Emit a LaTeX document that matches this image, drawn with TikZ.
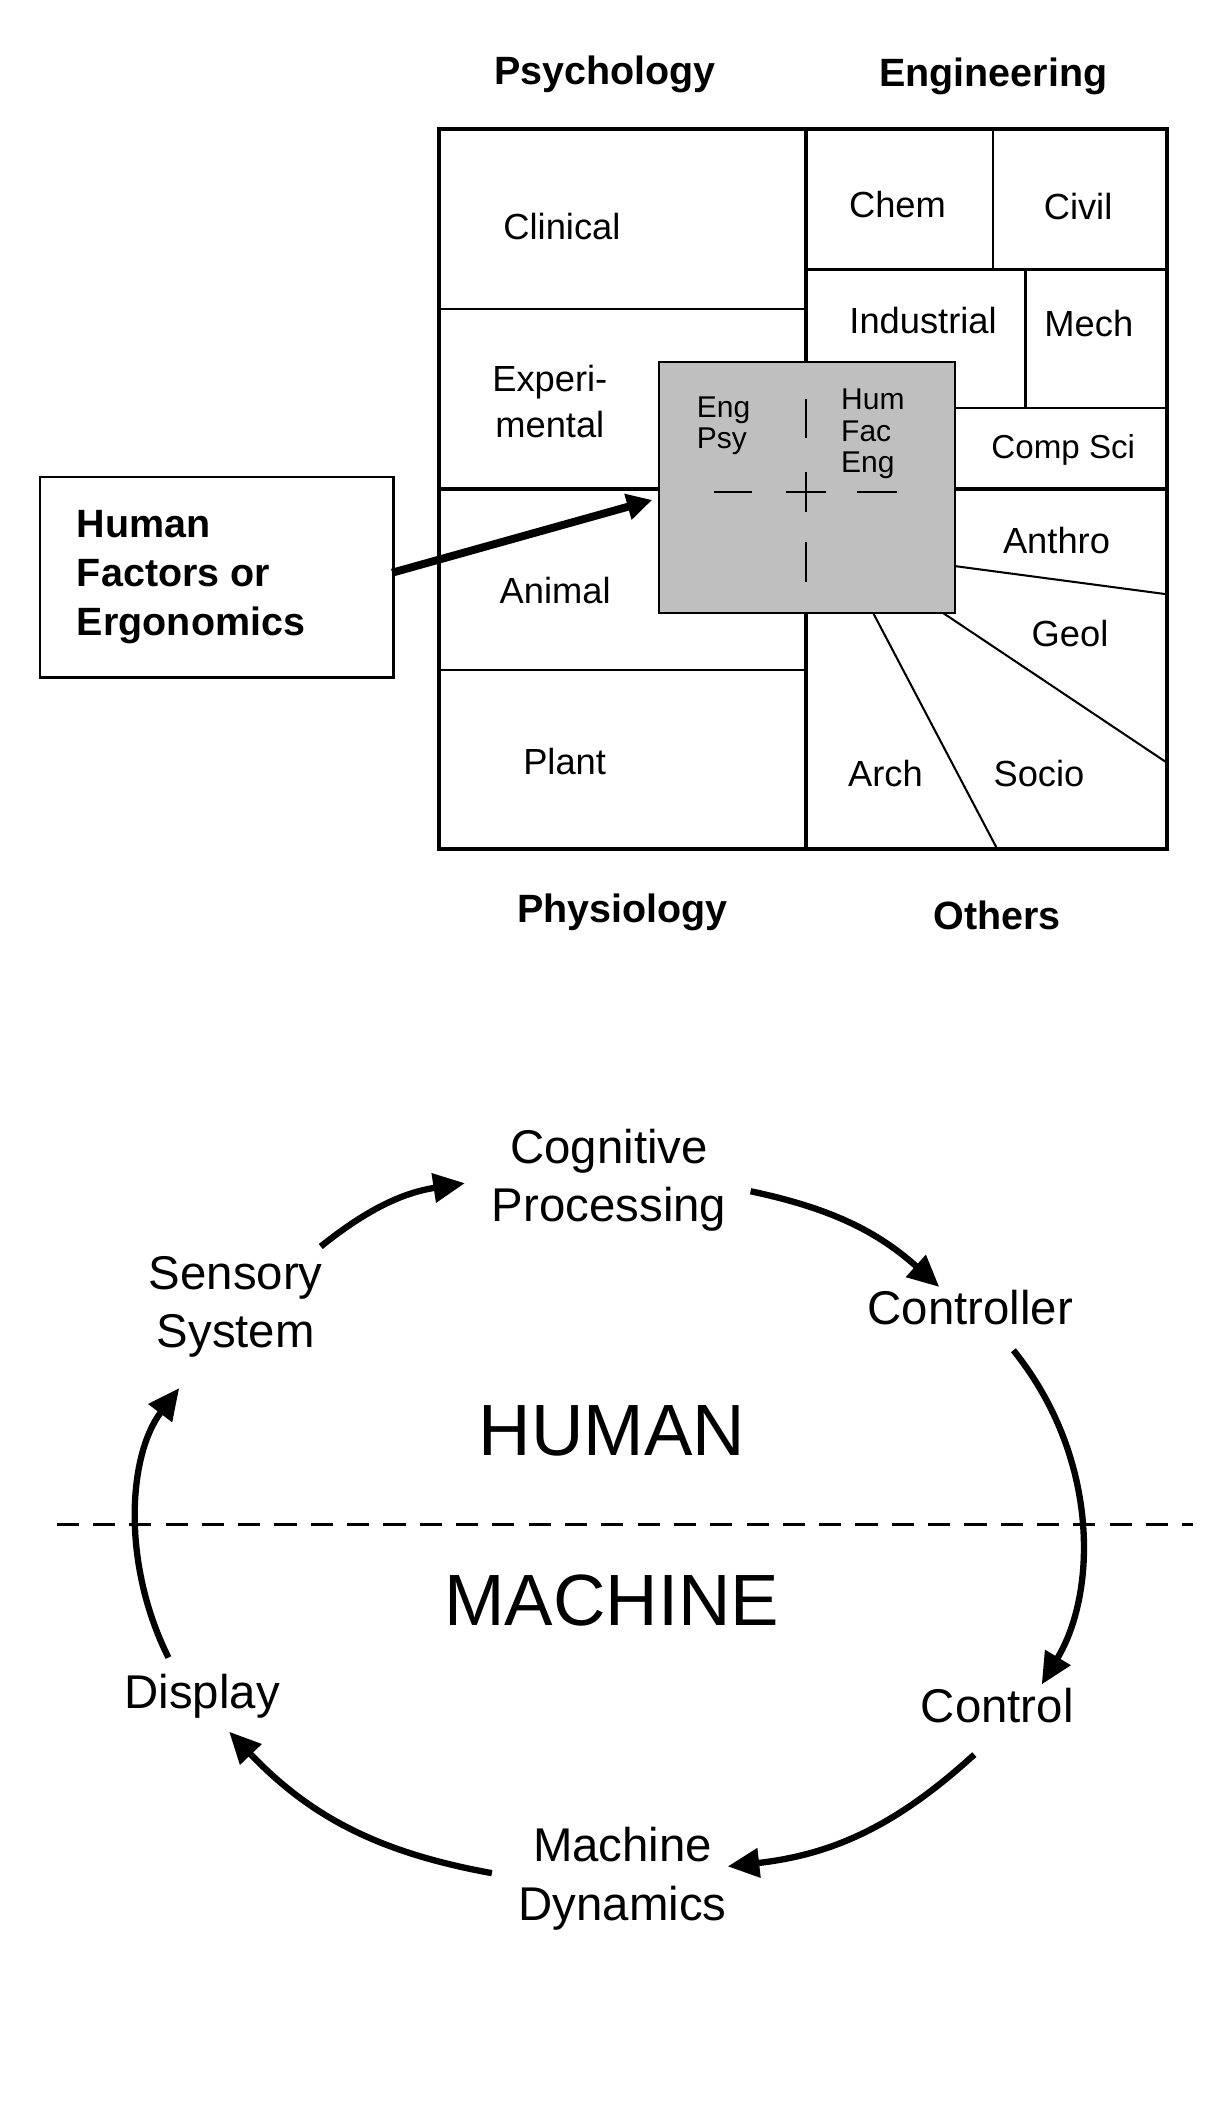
\documentclass[tikz,border=0pt]{standalone}
\usepackage{fontspec}
\setmainfont{Liberation Sans}
\usetikzlibrary{arrows.meta}
\begin{document}
\begin{tikzpicture}[x=0.03cm,y=-0.03cm,
 lab/.style={font=\fontsize{23}{26}\selectfont,align=center},
 hdr/.style={font=\fontsize{25}{28}\selectfont\bfseries},
 sm/.style={font=\fontsize{19}{20}\selectfont,align=left,inner sep=0},
 big/.style={font=\fontsize{30}{37}\selectfont,align=center},
 huge/.style={font=\fontsize{46}{50}\selectfont},
 thin/.style={line width=1.3pt},
 cyc/.style={line width=4pt,-{Triangle[length=20pt,width=18pt]}}]
\useasboundingbox[fill=white] (0,0) rectangle (905,1568);
% top grid
\draw[line width=2.6pt] (326,96) rectangle (866,630);
\draw[line width=2.6pt] (598,96) -- (598,630) (326,363) -- (866,363);
\draw[thin] (326,229) -- (598,229) (326,497) -- (598,497);
\draw[thin] (737,96) -- (737,200) (598,200) -- (866,200) (761,200) -- (761,303) (708,303) -- (866,303);
\draw[thin] (708,420) -- (866,441) (700,455) -- (866,566) (648,455) -- (740,630);
\node[draw,thin,fill=gray!50,minimum width=220*0.03cm,minimum height=186*0.03cm,anchor=north west,inner sep=0] (g) at (488,268) {};
\draw[thin] (598,296) -- (598,325) (530,365) -- (558,365) (583,365) -- (613,365) (598,350) -- (598,380) (636,365) -- (666,365) (598,402) -- (598,432);
\node[sm] (ep) at (537,316) {Eng\\Psy};
\node[sm,anchor=west] (hfe) at (624,322) {Hum\\Fac\\Eng};
\node[lab] (cl) at (417,168) {Clinical};
\node[lab,font=\fontsize{23}{29}\selectfont] (ex) at (408,298) {Experi-\\mental};
\node[lab] (an) at (412,438) {Animal};
\node[lab] (pl) at (419,565) {Plant};
\node[lab] (ch) at (666,152) {Chem};
\node[lab] (ci) at (800,153) {Civil};
\node[lab] (in) at (685,238) {Industrial};
\node[lab] (me) at (808,240) {Mech};
\node[lab,font=\fontsize{21}{24}\selectfont] (cs) at (789,334) {Comp Sci};
\node[lab] (ant) at (784,401) {Anthro};
\node[lab] (ge) at (794,470) {Geol};
\node[lab] (ar) at (657,574) {Arch};
\node[lab] (so) at (771,574) {Socio};
\node[hdr] (psy) at (449,55) {Psychology};
\node[hdr] (eng) at (737,57) {Engineering};
\node[hdr] (phy) at (462,677) {Physiology};
\node[hdr] (oth) at (740,679) {Others};
\node[draw,line width=1.5pt,minimum width=262*0.03cm,minimum height=149*0.03cm,anchor=north west,inner sep=0] (hf) at (29,353) {};
\node[hdr,align=left,anchor=west,font=\fontsize{25}{31}\selectfont\bfseries] (hft) at (53,428) {Human\\Factors or\\Ergonomics};
\coordinate (a1) at (291,425);
\coordinate (a2) at (484,371);
\draw[line width=5pt,-{Triangle[length=16pt,width=16pt]}] (a1) -- (a2);
% cycle
\node[big] (cp) at (452,876) {Cognitive\\Processing};
\node[big] (ss) at (175,970) {Sensory\\System};
\node[big] (co) at (720,970) {Controller};
\node[huge] (hu) at (454,1062) {HUMAN};
\node[huge] (ma) at (454,1188) {MACHINE};
\node[big] (di) at (150,1259) {Display};
\node[big] (ct) at (740,1266) {Control};
\node[big] (md) at (462,1394) {Machine\\Dynamics};
\coordinate (d1) at (42,1131); \coordinate (d2) at (885,1131);
\draw[line width=2pt,dash pattern=on 14pt off 9pt] (d1) -- (d2);
\draw[cyc] (238,925) to[bend left=15] (345,878);
\draw[cyc] (557,884) to[bend left=15] (697,955);
\draw[cyc] (752,1002) .. controls (815,1080) and (815,1180) .. (773,1250);
\draw[cyc] (723,1302) to[bend left=18] (540,1385);
\draw[cyc] (365,1390) to[bend left=18] (170,1285);
\draw[cyc] (125,1230) .. controls (90,1160) and (95,1080) .. (133,1030);
\end{tikzpicture}
\end{document}
